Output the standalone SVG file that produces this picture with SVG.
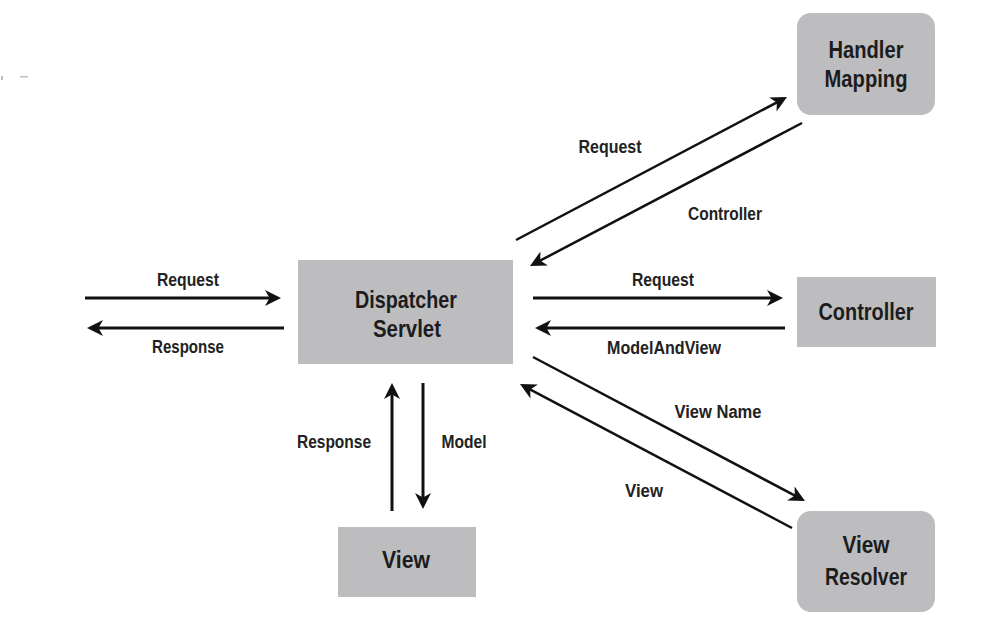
<svg xmlns="http://www.w3.org/2000/svg" width="996" height="619" viewBox="0 0 996 619">
<style>
.box{fill:#bdbdc0;}
.nt{font-family:"Liberation Sans",Arial,sans-serif;font-size:24px;font-weight:bold;fill:#1c1c1c;text-anchor:middle;}
.lt{font-family:"Liberation Sans",Arial,sans-serif;font-size:18px;font-weight:bold;fill:#222;text-anchor:middle;}
.c{stroke:#111;stroke-width:3;fill:none;marker-end:url(#ah);}
.d{stroke:#111;stroke-width:2.5;fill:none;marker-end:url(#ah);}
</style>
<defs>
<marker id="ah" markerUnits="userSpaceOnUse" markerWidth="20" markerHeight="18" refX="9" refY="8" orient="auto" overflow="visible">
<path d="M0,0 L16,8 L0,16 L4.5,8 z" fill="#111"/>
</marker>
</defs>
<rect width="996" height="619" fill="#ffffff"/>
<rect x="1" y="76" width="2" height="4" fill="#bbb"/>
<rect x="20" y="76" width="8" height="1.5" fill="#bbb"/>

<g id="dispatcher">
<rect class="box" x="298" y="260" width="215" height="104"/>
<text class="nt" x="406" y="308" textLength="102" lengthAdjust="spacingAndGlyphs">Dispatcher</text>
<text class="nt" x="407" y="337" textLength="68" lengthAdjust="spacingAndGlyphs">Servlet</text>
</g>
<g id="handler-mapping">
<rect class="box" x="797" y="13" width="138" height="102" rx="14"/>
<text class="nt" x="866" y="58" textLength="75" lengthAdjust="spacingAndGlyphs">Handler</text>
<text class="nt" x="866" y="87" textLength="83" lengthAdjust="spacingAndGlyphs">Mapping</text>
</g>
<g id="controller">
<rect class="box" x="797" y="277" width="139" height="70"/>
<text class="nt" x="866" y="320" textLength="95" lengthAdjust="spacingAndGlyphs">Controller</text>
</g>
<g id="view">
<rect class="box" x="338" y="527" width="138" height="70"/>
<text class="nt" x="406" y="568" textLength="48" lengthAdjust="spacingAndGlyphs">View</text>
</g>
<g id="view-resolver">
<rect class="box" x="797" y="511" width="138" height="101" rx="14"/>
<text class="nt" x="866" y="553" textLength="47" lengthAdjust="spacingAndGlyphs">View</text>
<text class="nt" x="866" y="585" textLength="82" lengthAdjust="spacingAndGlyphs">Resolver</text>
</g>

<g id="connectors">
<line class="c" x1="85" y1="298" x2="274" y2="298"/>
<line class="c" x1="284" y1="328" x2="94" y2="328"/>
<line class="d" x1="516" y1="240" x2="780.8" y2="100.3"/>
<line class="d" x1="802" y1="123" x2="536.2" y2="262.7"/>
<line class="c" x1="533" y1="298" x2="776" y2="298"/>
<line class="c" x1="785" y1="328" x2="542" y2="328"/>
<line class="d" x1="533" y1="357" x2="798.8" y2="497.7"/>
<line class="d" x1="792" y1="528" x2="526.2" y2="387.3"/>
<line class="c" x1="392" y1="511" x2="392" y2="390"/>
<line class="c" x1="423" y1="383" x2="423" y2="502"/>
</g>

<g id="labels">
<text class="lt" x="188" y="286" textLength="62" lengthAdjust="spacingAndGlyphs">Request</text>
<text class="lt" x="188" y="353" textLength="72" lengthAdjust="spacingAndGlyphs">Response</text>
<text class="lt" x="610" y="153" textLength="63" lengthAdjust="spacingAndGlyphs">Request</text>
<text class="lt" x="725" y="220" textLength="74" lengthAdjust="spacingAndGlyphs">Controller</text>
<text class="lt" x="663" y="286" textLength="62" lengthAdjust="spacingAndGlyphs">Request</text>
<text class="lt" x="664" y="354" textLength="114" lengthAdjust="spacingAndGlyphs">ModelAndView</text>
<text class="lt" x="718" y="418" textLength="87" lengthAdjust="spacingAndGlyphs">View Name</text>
<text class="lt" x="644" y="497" textLength="38" lengthAdjust="spacingAndGlyphs">View</text>
<text class="lt" x="334" y="448" textLength="74" lengthAdjust="spacingAndGlyphs">Response</text>
<text class="lt" x="464" y="448" textLength="45" lengthAdjust="spacingAndGlyphs">Model</text>
</g>
</svg>
